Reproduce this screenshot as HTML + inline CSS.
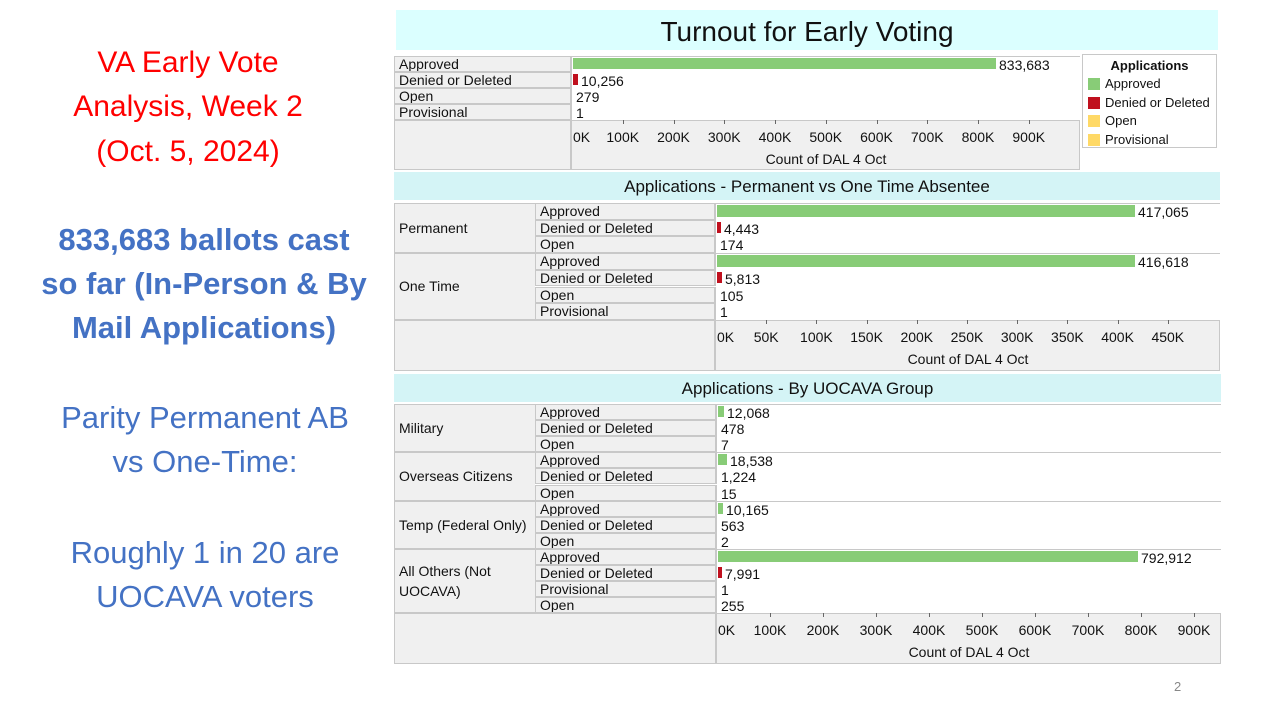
<!DOCTYPE html>
<html><head><meta charset="utf-8">
<style>
body{margin:0;width:1280px;height:720px;background:#fff;position:relative;overflow:hidden;font-family:"Liberation Sans",sans-serif}
.a{position:absolute;white-space:nowrap}
.lt{position:absolute;width:376px;left:0;text-align:center;font-size:30px;line-height:44px}
.cell{position:absolute;background:#f0f0f0;box-sizing:border-box;font-size:14px;line-height:14px;color:#111;overflow:hidden}
.ban{position:absolute;background:#d4f4f6;text-align:center;color:#111}
</style></head><body>
<div class="lt" style="top:41px;color:#ff0000">VA Early Vote</div>
<div class="lt" style="top:85px;color:#ff0000">Analysis, Week 2</div>
<div class="lt" style="top:130px;color:#ff0000">(Oct. 5, 2024)</div>
<div class="lt" style="left:16px;top:218px;color:#4472c4;font-weight:bold;font-size:31px">833,683 ballots cast<br>so far (In-Person &amp; By<br>Mail Applications)</div>
<div class="lt" style="left:17px;top:396px;color:#4472c4;font-size:31px">Parity Permanent AB<br>vs One-Time:</div>
<div class="lt" style="left:17px;top:531px;color:#4472c4;font-size:31px">Roughly 1 in 20 are<br>UOCAVA voters</div>
<div class="a" style="left:1174px;top:679px;font-size:13px;color:#888">2</div>

<div class="ban" style="left:396px;top:10px;width:822px;height:40px;background:#dbffff;font-size:28px;line-height:44px">Turnout for Early Voting</div>
<div class="ban" style="left:394px;top:172px;width:826px;height:28px;font-size:17px;line-height:30px">Applications - Permanent vs One Time Absentee</div>
<div class="ban" style="left:394px;top:374px;width:827px;height:28px;font-size:17px;line-height:30px">Applications - By UOCAVA Group</div>

<div class="a" style="left:1082px;top:54px;width:135px;height:94px;border:1px solid #c8c8c8;box-sizing:border-box;font-size:13px;color:#111">
<div style="text-align:center;font-weight:bold;margin-top:2px;height:18px;line-height:18px">Applications</div>
<div style="height:18.5px;line-height:18.5px"><span style="display:inline-block;width:12px;height:12px;background:#88cc77;margin:0 5px 0 5px;vertical-align:-2px"></span>Approved</div>
<div style="height:18.5px;line-height:18.5px"><span style="display:inline-block;width:12px;height:12px;background:#c0101e;margin:0 5px 0 5px;vertical-align:-2px"></span>Denied or Deleted</div>
<div style="height:18.5px;line-height:18.5px"><span style="display:inline-block;width:12px;height:12px;background:#ffd966;margin:0 5px 0 5px;vertical-align:-2px"></span>Open</div>
<div style="height:18.5px;line-height:18.5px"><span style="display:inline-block;width:12px;height:12px;background:#ffd966;margin:0 5px 0 5px;vertical-align:-2px"></span>Provisional</div>
</div>

<script>
// Chart 1
const c1Cats=["Approved","Denied or Deleted","Open","Provisional"];
const c1Vals=[833683,10256,279,1];
const c1Ticks=[0,100000,200000,300000,400000,500000,600000,700000,800000,900000];
// Chart 2
const c2Groups=["Permanent","One Time"];
const c2Cats=[["Approved","Denied or Deleted","Open"],["Approved","Denied or Deleted","Open","Provisional"]];
const c2Vals=[[417065,4443,174],[416618,5813,105,1]];
const c2Ticks=[0,50000,100000,150000,200000,250000,300000,350000,400000,450000];
// Chart 3
const c3Groups=["Military","Overseas Citizens","Temp (Federal Only)","All Others (Not UOCAVA)"];
const c3Cats=[["Approved","Denied or Deleted","Open"],["Approved","Denied or Deleted","Open"],["Approved","Denied or Deleted","Open"],["Approved","Denied or Deleted","Provisional","Open"]];
const c3Vals=[[12068,478,7],[18538,1224,15],[10165,563,2],[792912,7991,1,255]];
const c3Ticks=[0,100000,200000,300000,400000,500000,600000,700000,800000,900000];

const colorFor=c=>c==="Approved"?"#88cc77":c==="Denied or Deleted"?"#c0101e":"#ffd966";
function el(cls,css,txt){const d=document.createElement('div');d.className=cls;d.style.cssText=css;if(txt!==undefined)d.textContent=txt;document.body.appendChild(d);return d;}
function fmt(v){return v.toLocaleString('en-US');}

function chart(o){
  const xs=v=>o.x0+v*o.ppu;
  const catL=o.left+o.groupW, plotL=o.plotL;
  let y=o.top;
  o.groups.forEach((g,gi)=>{
    const n=o.cats[gi].length, gh=n*o.rowH;
    if(o.groupW){
      const gc=el('cell',`left:${o.left}px;top:${y}px;width:${o.groupW}px;height:${gh}px;border:1px solid #c8c8c8;border-right:none;display:flex;align-items:center;padding-left:4px;white-space:normal;line-height:20px`,g);
      
      
    }
    el('a',`left:${plotL}px;top:${y}px;width:${o.plotR-plotL}px;height:${gh}px;background:#fff;border-top:1px solid #c8c8c8;box-sizing:border-box`);
    o.cats[gi].forEach((c,ci)=>{
      const ry=y+ci*o.rowH;
      const lc=el('cell',`left:${catL}px;top:${ry}px;width:${plotL-catL}px;height:${o.rowH}px;border:1px solid #c8c8c8;border-right:2px solid #c8c8c8;padding-left:4px;line-height:${o.rowH-1}px`,c);
      
      
      const v=o.vals[gi][ci];
      const w=Math.floor(Math.max(xs(v)-o.x0,0));
      const b=el('a',`left:${o.x0+1}px;top:${ry+2}px;width:${w}px;height:${o.rowH-5}px;background:${colorFor(c)}`);
      
      
      const t=el('a',`left:${o.x0+w+4}px;top:${ry+2}px;font-size:14px;line-height:14px;color:#111`,fmt(v));
      
      
    });
    y+=gh;
  });
  const ax=el('cell',`left:${o.left}px;top:${y}px;width:${plotL-o.left}px;height:${o.axisH}px;border:1px solid #c8c8c8;border-right:2px solid #c8c8c8`);
  
  
  const pa=el('cell',`left:${plotL}px;top:${y}px;width:${o.plotR-plotL}px;height:${o.axisH}px;border:1px solid #c8c8c8;border-left:none`);
  
  
  o.ticks.forEach((tk,i)=>{
    const x=xs(tk);
    if(i>0) el('a',`left:${x}px;top:${y}px;width:1px;height:4px;background:#666`);
    const lbl=el('a',`left:${i===0?x+1:x-25}px;top:${y+9}px;width:${i===0?30:50}px;text-align:${i===0?'left':'center'};font-size:14px;color:#111`,(tk/1000)+'K');
    
    
  });
  const tt=el('a',`left:${plotL}px;top:${y+31}px;width:${o.plotR-plotL}px;text-align:center;font-size:14px;color:#111`,"Count of DAL 4 Oct");
  
  
}
chart({left:394,top:56,groupW:0,plotL:572,plotR:1080,rowH:16,axisH:50,x0:572,ppu:50.75/100000,groups:[""],cats:[c1Cats],vals:[c1Vals],ticks:c1Ticks});
chart({left:394,top:203,groupW:141,plotL:716,plotR:1220,rowH:16.7,axisH:51,x0:716,ppu:50.2/50000,groups:c2Groups,cats:c2Cats,vals:c2Vals,ticks:c2Ticks});
chart({left:394,top:404,groupW:141,plotL:717,plotR:1221,rowH:16.1,axisH:51,x0:717,ppu:53/100000,groups:c3Groups,cats:c3Cats,vals:c3Vals,ticks:c3Ticks});
</script>
</body></html>
